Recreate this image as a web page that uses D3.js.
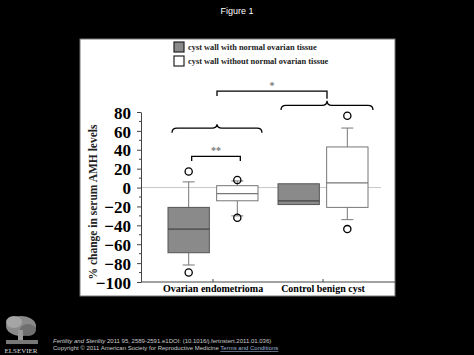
<!DOCTYPE html>
<html><head><meta charset="utf-8">
<script src="https://cdn.jsdelivr.net/npm/d3@7"></script>
<style>
html,body{margin:0;padding:0;background:#000;}
svg{display:block;}
</style></head>
<body>
<script>
// ---- data ----
const categories = ["Ovarian endometrioma", "Control benign cyst"];
const series = ["cyst wall with normal ovarian tissue", "cyst wall without normal ovarian tissue"];
const seriesFill = ["#8a8a8a", "#ffffff"];
// box statistics per series, one value per category
const withLow  = [-82, -18];
const withQ1   = [-69, -18];
const withMed  = [-44, -14];
const withQ3   = [-21, 4];
const withHigh = [6, 4];
const withOutliers = [[17, -90], []];
const withoutLow  = [-30, -34];
const withoutQ1   = [-14, -21];
const withoutMed  = [-6.5, 5];
const withoutQ3   = [2, 43];
const withoutHigh = [7, 63];
const withoutOutliers = [[8, -32], [76, -44]];
const yTicks = [-100, -80, -60, -40, -20, 0, 20, 40, 60, 80];
const yMinorTicks = [-90, -70, -50, -30, -10, 10, 30, 50, 70];

const W = 474, H = 355;
const svg = d3.select("body").append("svg").attr("width", W).attr("height", H)
  .style("font-family", "'Liberation Serif','Times New Roman',serif");

svg.append("rect").attr("width", W).attr("height", H).attr("fill", "#000");
svg.append("text").attr("x", 237).attr("y", 14).attr("text-anchor", "middle")
  .attr("fill", "#fff").style("font-family", "'Liberation Sans',Arial,sans-serif")
  .style("font-size", "9px").text("Figure 1");

// panel
svg.append("rect").attr("x", 80).attr("y", 39).attr("width", 315).attr("height", 257)
  .attr("fill", "#fff").attr("stroke", "#777").attr("stroke-width", 1);

// scales
const y = d3.scaleLinear().domain([-100, 80]).range([282, 112]);
const x = d3.scaleBand().domain(categories).range([158, 378]).paddingInner(0);
const xs = d3.scaleBand().domain(series).range([10, 100]).paddingInner(0.15);

const axisX = 141;

// zero line
svg.append("line").attr("x1", axisX).attr("x2", 381).attr("y1", y(0)).attr("y2", y(0))
  .attr("stroke", "#c8c8c8").attr("stroke-width", 1);

// y axis
const gy = svg.append("g").attr("transform", `translate(${axisX},0)`)
  .call(d3.axisLeft(y).tickValues(yTicks).tickSize(4).tickSizeOuter(0).tickPadding(6));
gy.select(".domain").attr("stroke", "#444");
gy.selectAll(".tick line").attr("stroke", "#444");
gy.selectAll(".tick text").attr("fill", "#000")
  .style("font-family", "'Liberation Serif','Times New Roman',serif")
  .style("font-size", "17px").style("font-weight", "bold").attr("dy", "0.36em");
gy.selectAll(".minor").data(yMinorTicks).enter().append("line")
  .attr("x1", -2).attr("x2", 0).attr("y1", d => y(d)).attr("y2", d => y(d)).attr("stroke", "#444");

// x axis
const gx = svg.append("g").attr("transform", `translate(0,${y(-100)})`)
  .call(d3.axisBottom(x).tickSizeInner(-3).tickSizeOuter(0).tickPadding(3));
gx.select(".domain").attr("d", `M${axisX},0H395`).attr("stroke", "#444");
gx.selectAll(".tick line").attr("stroke", "#444");
gx.selectAll(".tick text").attr("fill", "#000")
  .style("font-family", "'Liberation Serif','Times New Roman',serif")
  .style("font-size", "10px").style("font-weight", "bold").attr("dy", "0.72em");

// y label
svg.append("text").attr("transform", `translate(97,202) rotate(-90)`)
  .attr("text-anchor", "middle").style("font-size", "11.5px").style("font-weight", "bold")
  .attr("fill", "#222").text("% change in serum AMH levels");

// boxes
const stats = [
  {low: withLow, q1: withQ1, med: withMed, q3: withQ3, high: withHigh, out: withOutliers},
  {low: withoutLow, q1: withoutQ1, med: withoutMed, q3: withoutQ3, high: withoutHigh, out: withoutOutliers}
];
const boxes = [];
series.forEach((s, si) => {
  categories.forEach((c, ci) => {
    const st = stats[si];
    boxes.push({s, si, c, ci, low: st.low[ci], q1: st.q1[ci], med: st.med[ci], q3: st.q3[ci], high: st.high[ci], out: st.out[ci]});
  });
});
const bw = xs.bandwidth();
const gB = svg.append("g");
boxes.forEach(b => {
  const x0 = x(b.c) + xs(b.s), cx = x0 + bw / 2;
  const g = gB.append("g");
  const wc = "#777";
  if (b.high > b.q3) {
    g.append("line").attr("x1", cx).attr("x2", cx).attr("y1", y(b.q3)).attr("y2", y(b.high)).attr("stroke", wc);
    g.append("line").attr("x1", cx - 6).attr("x2", cx + 6).attr("y1", y(b.high)).attr("y2", y(b.high)).attr("stroke", wc);
  }
  if (b.low < b.q1) {
    g.append("line").attr("x1", cx).attr("x2", cx).attr("y1", y(b.q1)).attr("y2", y(b.low)).attr("stroke", wc);
    g.append("line").attr("x1", cx - 6).attr("x2", cx + 6).attr("y1", y(b.low)).attr("y2", y(b.low)).attr("stroke", wc);
  }
  g.append("rect").attr("x", x0).attr("y", y(b.q3)).attr("width", bw).attr("height", y(b.q1) - y(b.q3))
    .attr("fill", seriesFill[b.si]).attr("stroke", b.si === 0 ? "#555" : "#777").attr("stroke-width", 1);
  g.append("line").attr("x1", x0).attr("x2", x0 + bw).attr("y1", y(b.med)).attr("y2", y(b.med))
    .attr("stroke", b.si === 0 ? "#444" : "#777").attr("stroke-width", 1.2);
  b.out.forEach(v => {
    g.append("circle").attr("cx", cx).attr("cy", y(v)).attr("r", 3.6)
      .attr("fill", "none").attr("stroke", "#000").attr("stroke-width", 1.3);
  });
});

// annotations
const ann = svg.append("g").attr("fill", "none").attr("stroke", "#000").attr("stroke-width", 1.3);
function brace(xa, xb, yTop, yEnd, yPeak) {
  const xm = (xa + xb) / 2, r = 5;
  return `M${xa},${yEnd} Q${xa},${yTop} ${xa + r},${yTop} L${xm - r},${yTop} Q${xm},${yTop} ${xm},${yPeak} Q${xm},${yTop} ${xm + r},${yTop} L${xb - r},${yTop} Q${xb},${yTop} ${xb},${yEnd}`;
}
const c0 = x(categories[0]), c1 = x(categories[1]);
const b0a = c0 + xs(series[0]) + 4, b0b = c0 + xs(series[1]) + bw + 4;
const b1a = c1 + xs(series[0]) + 3, b1b = c1 + xs(series[1]) + bw + 5;
ann.append("path").attr("d", brace(b0a, b0b, y(63), y(58), y(67)));
ann.append("path").attr("d", brace(b1a, b1b, y(87), y(82), y(92)));
// ** bracket
const s0 = c0 + xs(series[0]) + bw / 2 + 3, s1 = c0 + xs(series[1]) + bw / 2 + 3;
ann.append("path").attr("d", `M${s0},${y(28)}V${y(33)}H${s1}V${y(28)}`);
svg.append("text").attr("x", (s0 + s1) / 2).attr("y", y(33) - 2).attr("text-anchor", "middle")
  .attr("fill", "#777").style("font-size", "10px").style("font-weight", "bold").text("**");
// * bracket
const m0 = (b0a + b0b) / 2, m1 = (b1a + b1b) / 2;
ann.append("path").attr("d", `M${m0},${y(97)}V${y(102)}H${m1}V${y(94)}`);
svg.append("text").attr("x", (m0 + m1) / 2).attr("y", y(102) - 2).attr("text-anchor", "middle")
  .attr("fill", "#777").style("font-size", "10px").style("font-weight", "bold").text("*");

// legend
const leg = svg.append("g").attr("transform", "translate(174,42)");
series.forEach((s, i) => {
  const g = leg.append("g").attr("transform", `translate(0,${i * 14})`);
  g.append("rect").attr("width", 10).attr("height", 10).attr("fill", seriesFill[i])
    .attr("stroke", "#222").attr("stroke-width", 1.2);
  g.append("text").attr("x", 14).attr("y", 8).style("font-size", "8.4px").style("font-weight", "bold")
    .attr("fill", "#222").text(s);
});

// footer
const ft = svg.append("g").style("font-family", "'Liberation Sans',Arial,sans-serif").style("font-size", "6px");
const l1 = ft.append("text").attr("x", 53).attr("y", 343).attr("fill", "#ccc");
l1.append("tspan").style("font-style", "italic").text("Fertility and Sterility");
l1.append("tspan").text(" 2011 95, 2589-2591.e1DOI: (10.1016/j.fertnstert.2011.01.036)");
const l2 = ft.append("text").attr("x", 53).attr("y", 350).attr("fill", "#ccc");
l2.append("tspan").text("Copyright \u00A9 2011 American Society for Reproductive Medicine ");
l2.append("tspan").attr("fill", "#9fb3d6").style("text-decoration", "underline").text("Terms and Conditions");

// elsevier logo
const logo = svg.append("g");
logo.append("ellipse").attr("cx", 21).attr("cy", 326).attr("rx", 15).attr("ry", 10).attr("fill", "#8a8a8a");
logo.append("ellipse").attr("cx", 14).attr("cy", 322).attr("rx", 8).attr("ry", 6).attr("fill", "#a5a5a5");
logo.append("ellipse").attr("cx", 28).attr("cy", 330).attr("rx", 8).attr("ry", 6).attr("fill", "#6f6f6f");
logo.append("rect").attr("x", 18).attr("y", 330).attr("width", 5).attr("height", 14).attr("fill", "#9a9a9a");
logo.append("rect").attr("x", 6).attr("y", 340).attr("width", 32).attr("height", 4).attr("fill", "#777");
logo.append("text").attr("x", 21).attr("y", 353).attr("text-anchor", "middle").attr("fill", "#ddd")
  .style("font-size", "7px").text("ELSEVIER");
</script>
</body></html>
